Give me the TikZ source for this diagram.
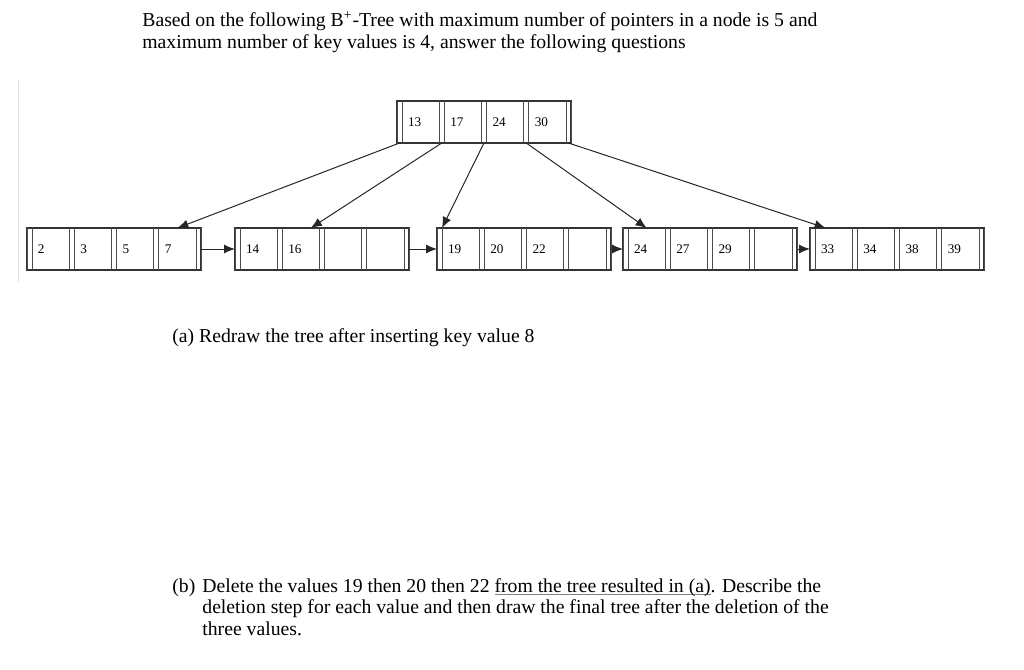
\documentclass[tikz,border=0pt]{standalone}
\usepackage{fontspec}
\setmainfont{Liberation Serif}
\usetikzlibrary{arrows.meta}

\newcommand{\grayul}[1]{\setbox0\hbox{#1}\rlap{\color{gray}\rule[-1.6pt]{\wd0}{0.5pt}}#1}

\begin{document}
\begin{tikzpicture}[x=0.5pt, y=-0.5pt,
    bpnode/.style={draw=black!80, line width=0.6pt, minimum width=87pt, minimum height=21pt,
        inner sep=0pt, outer sep=0pt, anchor=north west},
    keycell/.style={anchor=west, inner xsep=3pt, inner ysep=0pt, outer sep=0pt, text width=12.625pt,
        align=left, minimum height=21pt, font=\fontsize{6.6}{7}\selectfont},
    slotline/.style={black!70, line width=0.5pt},
    treeptr/.style={-{Latex[length=5.5pt, width=4.5pt]}, line width=0.5pt, black!85},
    qtext/.style={anchor=base west, inner sep=0pt, align=left, font=\fontsize{9.85}{10.75}\selectfont}
]
    \useasboundingbox (0,0) rectangle (1024,670);
    \draw[black!12] (18,80) -- (18,282);

    % tree nodes: name/x/y/keys
    \foreach \nm/\px/\py/\ka/\kb/\kc/\kd in {root/397/101/13/17/24/30, leafa/27/228/2/3/5/7,
        leafb/235/228/14/16//, leafc/437/228/19/20/22/, leafd/623/228/24/27/29/, leafe/810/228/33/34/38/39} {
        \node[bpnode] (\nm) at (\px,\py) {};
        \foreach \i/\kt in {0/\ka,1/\kb,2/\kc,3/\kd} {
            \node[keycell] (\nm-\i) at ([xshift=2.5pt+\i*21.125pt]\nm.west) {\kt};
        }
        \foreach \i in {0,...,4} {
            \draw[slotline] ([xshift=\i*21.125pt]\nm.north west) -- ([xshift=\i*21.125pt]\nm.south west);
            \draw[slotline] ([xshift=\i*21.125pt+2.5pt]\nm.north west) -- ([xshift=\i*21.125pt+2.5pt]\nm.south west);
            \coordinate (\nm-s\i) at ([xshift=\i*21.125pt+1.25pt]\nm.south west);
        }
    }

    % pointers from the root
    \draw[treeptr] (root-s0) -- (leafa-3.north);
    \draw[treeptr] (root-s1) -- ([xshift=5pt]leafb-1.north);
    \draw[treeptr] (root-s2) -- (leafc-0.north west);
    \draw[treeptr] (root-s3) -- (leafd-0.north);
    \draw[treeptr] (root-s4) -- ([xshift=-4pt]leafe-0.north);

    % leaf chain
    \draw[treeptr] (leafa.east) -- (leafb.west);
    \draw[treeptr] (leafb.east) -- (leafc.west);
    \draw[treeptr] (leafc.east) -- (leafd.west);
    \draw[treeptr] (leafd.east) -- (leafe.west);

    % multi-line texts sit on the baseline of their last line
    \node[qtext] (title) at (142,48) {Based on the following B\textsuperscript{+}-Tree with maximum number of pointers in a node is 5 and\\
        maximum number of key values is 4, answer the following questions};
    \node[qtext] (qa) at (172,342) {(a) Redraw the tree after inserting key value 8};
    \node[qtext] (qblabel) at (172,592) {(b)};
    \node[qtext] (qb) at (202,635) {Delete the values 19 then 20 then 22 \grayul{from the tree resulted in (a)}. Describe the\\
        deletion step for each value and then draw the final tree after the deletion of the\\
        three values.};
\end{tikzpicture}
\end{document}
